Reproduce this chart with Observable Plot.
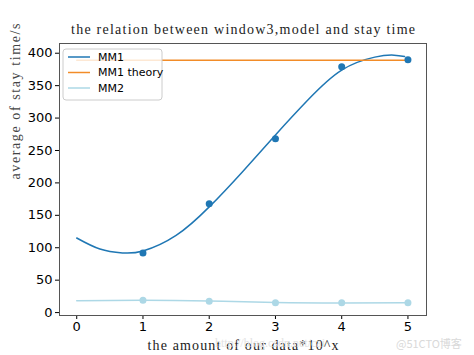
<!DOCTYPE html>
<html>
<head>
<meta charset="utf-8">
<script src="https://cdn.jsdelivr.net/npm/d3@7"></script>
<script src="https://cdn.jsdelivr.net/npm/@observablehq/plot@0.6"></script>
<style>
  html, body { margin: 0; padding: 0; background: #fff; }
  #chart { position: relative; width: 474px; height: 355px; }
</style>
</head>
<body>
<div id="chart"></div>
<script>
// ---- data ----
const pointX = [1, 2, 3, 4, 5];
const mm1Points = [92, 168, 268, 379, 390];
const mm2Points = [19, 17.5, 15, 15, 15];

const mm1CurveX = [0, 0.35, 0.69, 1, 1.5, 2, 2.5, 3, 3.5, 4, 4.5, 4.79, 4.95];
const mm1CurveY = [115, 98, 92, 95, 119, 163, 217, 274, 329, 374, 394, 397, 395];

const mm2CurveX = [0, 1, 2, 3, 4, 4.95];
const mm2CurveY = [18.2, 19, 17.8, 15.5, 14.8, 15];

const theoryX = [0, 4.95];
const theoryValue = 389;

const xTicks = [0, 1, 2, 3, 4, 5];
const yTicks = [0, 50, 100, 150, 200, 250, 300, 350, 400];

const titleText = "the relation between window3,model and stay time";
const xLabel = "the amount of our data*10^x";
const yLabel = "average of stay time/s";
const seriesNames = ["MM1", "MM1 theory", "MM2"];
const seriesColors = ["#1f77b4", "#f28c28", "#add8e6"];

// ---- tables ----
const mm1Curve = mm1CurveX.map((x, i) => ({x, y: mm1CurveY[i]}));
const mm2Curve = mm2CurveX.map((x, i) => ({x, y: mm2CurveY[i]}));
const theory = theoryX.map(x => ({x, y: theoryValue}));
const mm1Pts = pointX.map((x, i) => ({x, y: mm1Points[i]}));
const mm2Pts = pointX.map((x, i) => ({x, y: mm2Points[i]}));

const serif = "'Liberation Serif', 'DejaVu Serif', serif";

const plot = Plot.plot({
  width: 474,
  height: 355,
  marginLeft: 59,
  marginRight: 48,
  marginTop: 43,
  marginBottom: 40,
  style: {fontFamily: "'DejaVu Sans', sans-serif", fontSize: "13px", color: "#000", background: "#fff"},
  x: {domain: [-0.26, 5.28]},
  y: {domain: [-4.5, 415]},
  marks: [
    Plot.axisX({ticks: xTicks, tickFormat: d => String(d), tickSize: 4, tickPadding: 2, label: null, fontSize: 13, stroke: "#000"}),
    Plot.axisY({ticks: yTicks, tickFormat: d => String(d), tickSize: 4, tickPadding: 3, label: null, fontSize: 13, stroke: "#000"}),
    Plot.line(mm1Curve, {x: "x", y: "y", stroke: seriesColors[0], strokeWidth: 1.5, curve: "natural"}),
    Plot.line(theory, {x: "x", y: "y", stroke: seriesColors[1], strokeWidth: 1.5}),
    Plot.line(mm2Curve, {x: "x", y: "y", stroke: seriesColors[2], strokeWidth: 1.5, curve: "natural"}),
    Plot.dot(mm1Pts, {x: "x", y: "y", r: 3.5, fill: seriesColors[0], stroke: null}),
    Plot.dot(mm2Pts, {x: "x", y: "y", r: 3.5, fill: seriesColors[2], stroke: null}),
    Plot.frame({stroke: "#555", strokeWidth: 1}),
    Plot.text([titleText], {frameAnchor: "top", dy: -10, fontFamily: serif, fontSize: 14, fill: "#222", lineAnchor: "bottom", className: "ttl"}),
    Plot.text([xLabel], {frameAnchor: "bottom", dy: 34, fontFamily: serif, fontSize: 14, fill: "#222", className: "xl"}),
    Plot.text([yLabel], {frameAnchor: "left", dx: -44, rotate: -90, fontFamily: serif, fontSize: 14, fill: "#444", className: "yl"})
  ]
});

const svg = d3.select(plot);
// stretch the serif texts to the monospace-like widths of the reference
[["ttl", 344], ["xl", 191], ["yl", 156]].forEach(([cls, w]) => {
  svg.selectAll("g." + cls + " text").attr("textLength", w).attr("lengthAdjust", "spacing");
});

// ---- legend (inside the axes, upper left) ----
const lg = svg.append("g").attr("transform", "translate(63,49)");
lg.append("rect").attr("width", 99).attr("height", 51).attr("rx", 3)
  .attr("fill", "#fff").attr("fill-opacity", 0.8).attr("stroke", "#ccc");
seriesNames.forEach((name, i) => {
  const yy = 8 + i * 15.5;
  lg.append("line").attr("x1", 5).attr("x2", 27).attr("y1", yy).attr("y2", yy)
    .attr("stroke", seriesColors[i]).attr("stroke-width", 1.5);
  lg.append("text").attr("x", 35).attr("y", yy).attr("dy", "0.35em")
    .attr("text-anchor", "start")
    .attr("font-family", "'DejaVu Sans', sans-serif").attr("font-size", 11)
    .attr("fill", "#000").text(name);
});

// faint watermark
svg.append("text").attr("x", 215).attr("y", 347).attr("text-anchor", "start").attr("font-family", serif).attr("font-size", 12)
  .attr("fill", "#e3e3e3").text("http://blog.csdn.net/cai");
svg.append("text").attr("x", 396).attr("y", 348).attr("text-anchor", "start").attr("font-family", "'Noto Sans CJK SC', sans-serif").attr("font-size", 11)
  .attr("fill", "#d9d9d9").text("@51CTO博客");

document.getElementById("chart").appendChild(plot);
</script>
</body>
</html>
